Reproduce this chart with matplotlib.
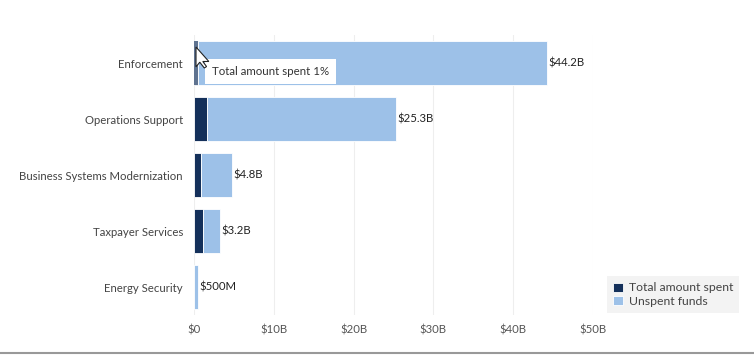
import matplotlib.pyplot as plt
from matplotlib.patches import Polygon

categories = ['Enforcement', 'Operations Support', 'Business Systems Modernization',
              'Taxpayer Services', 'Energy Security']
spent = [0.44, 1.6, 0.9, 1.1, 0.0]        # $B
totals = [44.2, 25.3, 4.8, 3.2, 0.5]      # $B
total_labels = ['$44.2B', '$25.3B', '$4.8B', '$3.2B', '$500M']
xticks = [0, 10, 20, 30, 40, 50]
xtick_labels = ['$0', '$10B', '$20B', '$30B', '$40B', '$50B']

dark = '#14305a'
light = '#9dc1e8'
text_color = '#444444'

plt.rcParams['font.family'] = ['Lato', 'DejaVu Sans']

fig = plt.figure(figsize=(7.54, 3.62), dpi=100)
ax = fig.add_axes([194 / 754, 1 - 315 / 362, (593 - 194) / 754, 280 / 362])

unspent = [t - s for t, s in zip(totals, spent)]
y = list(range(len(categories)))
ax.barh(y, spent, height=0.77, color=dark, edgecolor='white', linewidth=0.6, zorder=3)
ax.barh(y, unspent, left=spent, height=0.77, color=light, edgecolor='white', linewidth=0.6,
        zorder=3)
# hovered segment looks faded
ax.barh(0, spent[0], height=0.77, color='#5f7390', zorder=4)

for yi, t, lab in zip(y, totals, total_labels):
    ax.text(t + 0.2, yi, lab, va='center', ha='left', fontsize=8.2, color='#222222')

ax.set_ylim(len(categories) - 0.5, -0.5)
ax.set_xlim(0, 50)
ax.set_yticks(y)
ax.set_yticklabels(categories, fontsize=8.2, color=text_color)
ax.set_xticks(xticks)
ax.set_xticklabels(xtick_labels, fontsize=8.2, color='#555555')
ax.tick_params(axis='both', length=0, pad=8)
ax.tick_params(axis='x', pad=7)
ax.grid(axis='x', color='#eeeeee', linewidth=0.8, zorder=0)
for s in ax.spines.values():
    s.set_visible(False)

# tooltip
ax.text(2.3, 0.15, 'Total amount spent 1%', fontsize=8.3, color='#333333', va='center',
        ha='left', zorder=6,
        bbox=dict(boxstyle='square,pad=0.6', facecolor='white', edgecolor='none'))

# mouse cursor
cx, cy = 196 / 754, 1 - 47 / 362
cur = Polygon([[cx, cy], [cx, cy - 0.055], [cx + 0.005, cy - 0.042], [cx + 0.011, cy - 0.058],
               [cx + 0.014, cy - 0.054], [cx + 0.009, cy - 0.04], [cx + 0.017, cy - 0.04]],
              closed=True, transform=fig.transFigure, facecolor='white', edgecolor='#222222',
              linewidth=0.8, zorder=10)
fig.patches.append(cur)

# legend box
leg = ax.legend(['Total amount spent', 'Unspent funds'], loc='lower left',
                bbox_to_anchor=(607 / 754, 1 - 313 / 362), bbox_transform=fig.transFigure,
                fontsize=8.8, frameon=True, fancybox=False, handlelength=0.8, handleheight=0.8,
                handletextpad=0.5, borderpad=0.5, labelspacing=0.2, borderaxespad=0)
leg.get_frame().set_facecolor('#f0f0f0')
leg.get_frame().set_edgecolor('none')
for t in leg.get_texts():
    t.set_color(text_color)

fig.add_artist(plt.Line2D([0, 1], [1 - 352.5 / 362] * 2, transform=fig.transFigure,
                          color='#999999', linewidth=1.5))

fig.savefig('out.png', dpi=100)
